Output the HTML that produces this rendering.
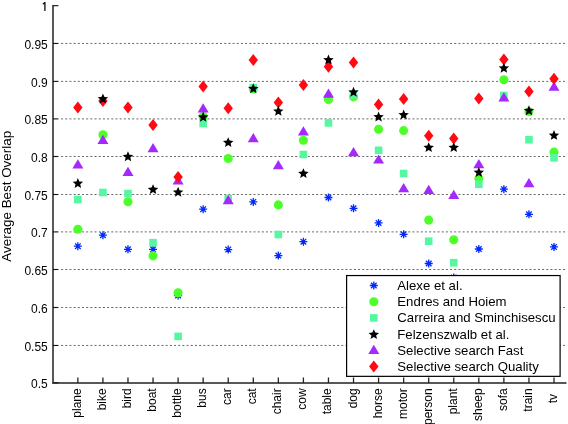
<!DOCTYPE html>
<html><head><meta charset="utf-8"><style>html,body{margin:0;padding:0;background:#fff;}svg{display:block;}</style></head>
<body>
<svg width="568" height="424" viewBox="0 0 568 424">
<rect width="568" height="424" fill="#fff"/>
<line x1="61.1" y1="345.45" x2="565.2" y2="345.45" stroke="#686868" stroke-width="1" stroke-dasharray="2 2.1825"/>
<line x1="61.1" y1="307.50" x2="565.2" y2="307.50" stroke="#686868" stroke-width="1" stroke-dasharray="2 2.1825"/>
<line x1="61.1" y1="269.50" x2="565.2" y2="269.50" stroke="#686868" stroke-width="1" stroke-dasharray="2 2.1825"/>
<line x1="61.1" y1="231.90" x2="565.2" y2="231.90" stroke="#686868" stroke-width="1" stroke-dasharray="2 2.1825"/>
<line x1="61.1" y1="194.50" x2="565.2" y2="194.50" stroke="#686868" stroke-width="1" stroke-dasharray="2 2.1825"/>
<line x1="61.1" y1="156.50" x2="565.2" y2="156.50" stroke="#686868" stroke-width="1" stroke-dasharray="2 2.1825"/>
<line x1="61.1" y1="118.90" x2="565.2" y2="118.90" stroke="#686868" stroke-width="1" stroke-dasharray="2 2.1825"/>
<line x1="61.1" y1="81.40" x2="565.2" y2="81.40" stroke="#686868" stroke-width="1" stroke-dasharray="2 2.1825"/>
<line x1="61.1" y1="43.45" x2="565.2" y2="43.45" stroke="#686868" stroke-width="1" stroke-dasharray="2 2.1825"/>
<path d="M73.86 246.20H81.86M77.86 242.20V250.20M75.06 243.40L80.66 249.00M75.06 249.00L80.66 243.40" stroke="#0028ff" stroke-width="1.3" fill="none"/>
<path d="M98.92 235.20H106.92M102.92 231.20V239.20M100.12 232.40L105.72 238.00M100.12 238.00L105.72 232.40" stroke="#0028ff" stroke-width="1.3" fill="none"/>
<path d="M123.98 249.30H131.98M127.98 245.30V253.30M125.18 246.50L130.78 252.10M125.18 252.10L130.78 246.50" stroke="#0028ff" stroke-width="1.3" fill="none"/>
<path d="M149.04 249.30H157.04M153.04 245.30V253.30M150.24 246.50L155.84 252.10M150.24 252.10L155.84 246.50" stroke="#0028ff" stroke-width="1.3" fill="none"/>
<path d="M174.10 295.50H182.10M178.10 291.50V299.50M175.30 292.70L180.90 298.30M175.30 298.30L180.90 292.70" stroke="#0028ff" stroke-width="1.3" fill="none"/>
<path d="M199.16 209.20H207.16M203.16 205.20V213.20M200.36 206.40L205.96 212.00M200.36 212.00L205.96 206.40" stroke="#0028ff" stroke-width="1.3" fill="none"/>
<path d="M224.22 249.60H232.22M228.22 245.60V253.60M225.42 246.80L231.02 252.40M225.42 252.40L231.02 246.80" stroke="#0028ff" stroke-width="1.3" fill="none"/>
<path d="M249.28 201.90H257.28M253.28 197.90V205.90M250.48 199.10L256.08 204.70M250.48 204.70L256.08 199.10" stroke="#0028ff" stroke-width="1.3" fill="none"/>
<path d="M274.34 255.60H282.34M278.34 251.60V259.60M275.54 252.80L281.14 258.40M275.54 258.40L281.14 252.80" stroke="#0028ff" stroke-width="1.3" fill="none"/>
<path d="M299.40 241.70H307.40M303.40 237.70V245.70M300.60 238.90L306.20 244.50M300.60 244.50L306.20 238.90" stroke="#0028ff" stroke-width="1.3" fill="none"/>
<path d="M324.46 197.50H332.46M328.46 193.50V201.50M325.66 194.70L331.26 200.30M325.66 200.30L331.26 194.70" stroke="#0028ff" stroke-width="1.3" fill="none"/>
<path d="M349.52 208.30H357.52M353.52 204.30V212.30M350.72 205.50L356.32 211.10M350.72 211.10L356.32 205.50" stroke="#0028ff" stroke-width="1.3" fill="none"/>
<path d="M374.58 222.90H382.58M378.58 218.90V226.90M375.78 220.10L381.38 225.70M375.78 225.70L381.38 220.10" stroke="#0028ff" stroke-width="1.3" fill="none"/>
<path d="M399.64 234.30H407.64M403.64 230.30V238.30M400.84 231.50L406.44 237.10M400.84 237.10L406.44 231.50" stroke="#0028ff" stroke-width="1.3" fill="none"/>
<path d="M424.70 263.50H432.70M428.70 259.50V267.50M425.90 260.70L431.50 266.30M425.90 266.30L431.50 260.70" stroke="#0028ff" stroke-width="1.3" fill="none"/>
<path d="M449.76 277.50H457.76M453.76 273.50V281.50M450.96 274.70L456.56 280.30M450.96 280.30L456.56 274.70" stroke="#0028ff" stroke-width="1.3" fill="none"/>
<path d="M474.82 249.00H482.82M478.82 245.00V253.00M476.02 246.20L481.62 251.80M476.02 251.80L481.62 246.20" stroke="#0028ff" stroke-width="1.3" fill="none"/>
<path d="M499.88 189.20H507.88M503.88 185.20V193.20M501.08 186.40L506.68 192.00M501.08 192.00L506.68 186.40" stroke="#0028ff" stroke-width="1.3" fill="none"/>
<path d="M524.94 214.30H532.94M528.94 210.30V218.30M526.14 211.50L531.74 217.10M526.14 217.10L531.74 211.50" stroke="#0028ff" stroke-width="1.3" fill="none"/>
<path d="M550.00 246.90H558.00M554.00 242.90V250.90M551.20 244.10L556.80 249.70M551.20 249.70L556.80 244.10" stroke="#0028ff" stroke-width="1.3" fill="none"/>
<circle cx="77.86" cy="229.20" r="4.55" fill="#4dff28"/>
<circle cx="102.92" cy="134.70" r="4.55" fill="#4dff28"/>
<circle cx="127.98" cy="201.70" r="4.55" fill="#4dff28"/>
<circle cx="153.04" cy="255.90" r="4.55" fill="#4dff28"/>
<circle cx="178.10" cy="292.70" r="4.55" fill="#4dff28"/>
<circle cx="203.16" cy="116.50" r="4.55" fill="#4dff28"/>
<circle cx="228.22" cy="158.50" r="4.55" fill="#4dff28"/>
<circle cx="253.28" cy="88.90" r="4.55" fill="#4dff28"/>
<circle cx="278.34" cy="204.90" r="4.55" fill="#4dff28"/>
<circle cx="303.40" cy="140.30" r="4.55" fill="#4dff28"/>
<circle cx="328.46" cy="99.60" r="4.55" fill="#4dff28"/>
<circle cx="353.52" cy="96.90" r="4.55" fill="#4dff28"/>
<circle cx="378.58" cy="129.20" r="4.55" fill="#4dff28"/>
<circle cx="403.64" cy="130.60" r="4.55" fill="#4dff28"/>
<circle cx="428.70" cy="220.10" r="4.55" fill="#4dff28"/>
<circle cx="453.76" cy="239.80" r="4.55" fill="#4dff28"/>
<circle cx="478.82" cy="178.60" r="4.55" fill="#4dff28"/>
<circle cx="503.88" cy="79.70" r="4.55" fill="#4dff28"/>
<circle cx="528.94" cy="111.80" r="4.55" fill="#4dff28"/>
<circle cx="554.00" cy="152.10" r="4.55" fill="#4dff28"/>
<rect x="74.06" y="195.70" width="7.6" height="7.6" fill="#55f8a0"/>
<rect x="99.12" y="188.70" width="7.6" height="7.6" fill="#55f8a0"/>
<rect x="124.18" y="189.80" width="7.6" height="7.6" fill="#55f8a0"/>
<rect x="149.24" y="238.90" width="7.6" height="7.6" fill="#55f8a0"/>
<rect x="174.30" y="332.60" width="7.6" height="7.6" fill="#55f8a0"/>
<rect x="199.36" y="119.70" width="7.6" height="7.6" fill="#55f8a0"/>
<rect x="224.42" y="194.80" width="7.6" height="7.6" fill="#55f8a0"/>
<rect x="249.48" y="83.80" width="7.6" height="7.6" fill="#55f8a0"/>
<rect x="274.54" y="230.70" width="7.6" height="7.6" fill="#55f8a0"/>
<rect x="299.60" y="150.70" width="7.6" height="7.6" fill="#55f8a0"/>
<rect x="324.66" y="119.10" width="7.6" height="7.6" fill="#55f8a0"/>
<rect x="349.72" y="90.90" width="7.6" height="7.6" fill="#55f8a0"/>
<rect x="374.78" y="146.50" width="7.6" height="7.6" fill="#55f8a0"/>
<rect x="399.84" y="169.70" width="7.6" height="7.6" fill="#55f8a0"/>
<rect x="424.90" y="237.40" width="7.6" height="7.6" fill="#55f8a0"/>
<rect x="449.96" y="258.90" width="7.6" height="7.6" fill="#55f8a0"/>
<rect x="475.02" y="180.50" width="7.6" height="7.6" fill="#55f8a0"/>
<rect x="500.08" y="91.70" width="7.6" height="7.6" fill="#55f8a0"/>
<rect x="525.14" y="135.90" width="7.6" height="7.6" fill="#55f8a0"/>
<rect x="550.20" y="154.00" width="7.6" height="7.6" fill="#55f8a0"/>
<path d="M77.86 159.30L83.36 168.50L72.36 168.50Z" fill="#a528ff"/>
<path d="M102.92 134.80L108.42 144.00L97.42 144.00Z" fill="#a528ff"/>
<path d="M127.98 166.80L133.48 176.00L122.48 176.00Z" fill="#a528ff"/>
<path d="M153.04 143.10L158.54 152.30L147.54 152.30Z" fill="#a528ff"/>
<path d="M178.10 175.40L183.60 184.60L172.60 184.60Z" fill="#a528ff"/>
<path d="M203.16 103.30L208.66 112.50L197.66 112.50Z" fill="#a528ff"/>
<path d="M228.22 195.00L233.72 204.20L222.72 204.20Z" fill="#a528ff"/>
<path d="M253.28 133.00L258.78 142.20L247.78 142.20Z" fill="#a528ff"/>
<path d="M278.34 160.00L283.84 169.20L272.84 169.20Z" fill="#a528ff"/>
<path d="M303.40 126.20L308.90 135.40L297.90 135.40Z" fill="#a528ff"/>
<path d="M328.46 88.60L333.96 97.80L322.96 97.80Z" fill="#a528ff"/>
<path d="M353.52 147.00L359.02 156.20L348.02 156.20Z" fill="#a528ff"/>
<path d="M378.58 154.40L384.08 163.60L373.08 163.60Z" fill="#a528ff"/>
<path d="M403.64 183.00L409.14 192.20L398.14 192.20Z" fill="#a528ff"/>
<path d="M428.70 184.80L434.20 194.00L423.20 194.00Z" fill="#a528ff"/>
<path d="M453.76 189.70L459.26 198.90L448.26 198.90Z" fill="#a528ff"/>
<path d="M478.82 159.00L484.32 168.20L473.32 168.20Z" fill="#a528ff"/>
<path d="M503.88 92.30L509.38 101.50L498.38 101.50Z" fill="#a528ff"/>
<path d="M528.94 178.10L534.44 187.30L523.44 187.30Z" fill="#a528ff"/>
<path d="M554.00 81.60L559.50 90.80L548.50 90.80Z" fill="#a528ff"/>
<path d="M77.86 101.50L82.56 107.50L77.86 113.50L73.16 107.50Z" fill="#ff0a12"/>
<path d="M102.92 94.90L107.62 100.90L102.92 106.90L98.22 100.90Z" fill="#ff0a12"/>
<path d="M127.98 101.40L132.68 107.40L127.98 113.40L123.28 107.40Z" fill="#ff0a12"/>
<path d="M153.04 119.10L157.74 125.10L153.04 131.10L148.34 125.10Z" fill="#ff0a12"/>
<path d="M178.10 171.00L182.80 177.00L178.10 183.00L173.40 177.00Z" fill="#ff0a12"/>
<path d="M203.16 80.60L207.86 86.60L203.16 92.60L198.46 86.60Z" fill="#ff0a12"/>
<path d="M228.22 102.30L232.92 108.30L228.22 114.30L223.52 108.30Z" fill="#ff0a12"/>
<path d="M253.28 54.10L257.98 60.10L253.28 66.10L248.58 60.10Z" fill="#ff0a12"/>
<path d="M278.34 96.60L283.04 102.60L278.34 108.60L273.64 102.60Z" fill="#ff0a12"/>
<path d="M303.40 79.10L308.10 85.10L303.40 91.10L298.70 85.10Z" fill="#ff0a12"/>
<path d="M328.46 60.70L333.16 66.70L328.46 72.70L323.76 66.70Z" fill="#ff0a12"/>
<path d="M353.52 56.50L358.22 62.50L353.52 68.50L348.82 62.50Z" fill="#ff0a12"/>
<path d="M378.58 98.50L383.28 104.50L378.58 110.50L373.88 104.50Z" fill="#ff0a12"/>
<path d="M403.64 93.10L408.34 99.10L403.64 105.10L398.94 99.10Z" fill="#ff0a12"/>
<path d="M428.70 129.70L433.40 135.70L428.70 141.70L424.00 135.70Z" fill="#ff0a12"/>
<path d="M453.76 132.50L458.46 138.50L453.76 144.50L449.06 138.50Z" fill="#ff0a12"/>
<path d="M478.82 92.60L483.52 98.60L478.82 104.60L474.12 98.60Z" fill="#ff0a12"/>
<path d="M503.88 53.50L508.58 59.50L503.88 65.50L499.18 59.50Z" fill="#ff0a12"/>
<path d="M528.94 85.50L533.64 91.50L528.94 97.50L524.24 91.50Z" fill="#ff0a12"/>
<path d="M554.00 72.70L558.70 78.70L554.00 84.70L549.30 78.70Z" fill="#ff0a12"/>
<polygon points="77.86,178.03 79.31,181.52 83.09,181.83 80.21,184.29 81.09,187.97 77.86,186.00 74.63,187.97 75.51,184.29 72.63,181.83 76.41,181.52" fill="#000"/>
<polygon points="102.92,93.53 104.37,97.02 108.15,97.33 105.27,99.79 106.15,103.47 102.92,101.50 99.69,103.47 100.57,99.79 97.69,97.33 101.47,97.02" fill="#000"/>
<polygon points="127.98,151.23 129.43,154.72 133.21,155.03 130.33,157.49 131.21,161.17 127.98,159.20 124.75,161.17 125.63,157.49 122.75,155.03 126.53,154.72" fill="#000"/>
<polygon points="153.04,184.13 154.49,187.62 158.27,187.93 155.39,190.39 156.27,194.07 153.04,192.10 149.81,194.07 150.69,190.39 147.81,187.93 151.59,187.62" fill="#000"/>
<polygon points="178.10,186.83 179.55,190.32 183.33,190.63 180.45,193.09 181.33,196.77 178.10,194.80 174.87,196.77 175.75,193.09 172.87,190.63 176.65,190.32" fill="#000"/>
<polygon points="203.16,111.73 204.61,115.22 208.39,115.53 205.51,117.99 206.39,121.67 203.16,119.70 199.93,121.67 200.81,117.99 197.93,115.53 201.71,115.22" fill="#000"/>
<polygon points="228.22,137.13 229.67,140.62 233.45,140.93 230.57,143.39 231.45,147.07 228.22,145.10 224.99,147.07 225.87,143.39 222.99,140.93 226.77,140.62" fill="#000"/>
<polygon points="253.28,83.23 254.73,86.72 258.51,87.03 255.63,89.49 256.51,93.17 253.28,91.20 250.05,93.17 250.93,89.49 248.05,87.03 251.83,86.72" fill="#000"/>
<polygon points="278.34,105.83 279.79,109.32 283.57,109.63 280.69,112.09 281.57,115.77 278.34,113.80 275.11,115.77 275.99,112.09 273.11,109.63 276.89,109.32" fill="#000"/>
<polygon points="303.40,168.13 304.85,171.62 308.63,171.93 305.75,174.39 306.63,178.07 303.40,176.10 300.17,178.07 301.05,174.39 298.17,171.93 301.95,171.62" fill="#000"/>
<polygon points="328.46,54.53 329.91,58.02 333.69,58.33 330.81,60.79 331.69,64.47 328.46,62.50 325.23,64.47 326.11,60.79 323.23,58.33 327.01,58.02" fill="#000"/>
<polygon points="353.52,86.73 354.97,90.22 358.75,90.53 355.87,92.99 356.75,96.67 353.52,94.70 350.29,96.67 351.17,92.99 348.29,90.53 352.07,90.22" fill="#000"/>
<polygon points="378.58,111.53 380.03,115.02 383.81,115.33 380.93,117.79 381.81,121.47 378.58,119.50 375.35,121.47 376.23,117.79 373.35,115.33 377.13,115.02" fill="#000"/>
<polygon points="403.64,109.53 405.09,113.02 408.87,113.33 405.99,115.79 406.87,119.47 403.64,117.50 400.41,119.47 401.29,115.79 398.41,113.33 402.19,113.02" fill="#000"/>
<polygon points="428.70,142.13 430.15,145.62 433.93,145.93 431.05,148.39 431.93,152.07 428.70,150.10 425.47,152.07 426.35,148.39 423.47,145.93 427.25,145.62" fill="#000"/>
<polygon points="453.76,142.13 455.21,145.62 458.99,145.93 456.11,148.39 456.99,152.07 453.76,150.10 450.53,152.07 451.41,148.39 448.53,145.93 452.31,145.62" fill="#000"/>
<polygon points="478.82,167.03 480.27,170.52 484.05,170.83 481.17,173.29 482.05,176.97 478.82,175.00 475.59,176.97 476.47,173.29 473.59,170.83 477.37,170.52" fill="#000"/>
<polygon points="503.88,62.73 505.33,66.22 509.11,66.53 506.23,68.99 507.11,72.67 503.88,70.70 500.65,72.67 501.53,68.99 498.65,66.53 502.43,66.22" fill="#000"/>
<polygon points="528.94,105.23 530.39,108.72 534.17,109.03 531.29,111.49 532.17,115.17 528.94,113.20 525.71,115.17 526.59,111.49 523.71,109.03 527.49,108.72" fill="#000"/>
<polygon points="554.00,129.93 555.45,133.42 559.23,133.73 556.35,136.19 557.23,139.87 554.00,137.90 550.77,139.87 551.65,136.19 548.77,133.73 552.55,133.42" fill="#000"/>
<line x1="53" y1="4.88" x2="53" y2="384" stroke="#585858" stroke-width="2"/>
<line x1="52" y1="383" x2="566.5" y2="383" stroke="#585858" stroke-width="2"/>
<line x1="53" y1="382.86" x2="58.4" y2="382.86" stroke="#111" stroke-width="1.1"/>
<line x1="53" y1="345.45" x2="58.4" y2="345.45" stroke="#111" stroke-width="1.1"/>
<line x1="53" y1="307.50" x2="58.4" y2="307.50" stroke="#111" stroke-width="1.1"/>
<line x1="53" y1="269.50" x2="58.4" y2="269.50" stroke="#111" stroke-width="1.1"/>
<line x1="53" y1="231.90" x2="58.4" y2="231.90" stroke="#111" stroke-width="1.1"/>
<line x1="53" y1="194.50" x2="58.4" y2="194.50" stroke="#111" stroke-width="1.1"/>
<line x1="53" y1="156.50" x2="58.4" y2="156.50" stroke="#111" stroke-width="1.1"/>
<line x1="53" y1="118.90" x2="58.4" y2="118.90" stroke="#111" stroke-width="1.1"/>
<line x1="53" y1="81.40" x2="58.4" y2="81.40" stroke="#111" stroke-width="1.1"/>
<line x1="53" y1="43.45" x2="58.4" y2="43.45" stroke="#111" stroke-width="1.1"/>
<line x1="53" y1="5.68" x2="58.4" y2="5.68" stroke="#111" stroke-width="1.1"/>
<line x1="77.86" y1="383" x2="77.86" y2="377.5" stroke="#222" stroke-width="1.3"/>
<line x1="102.92" y1="383" x2="102.92" y2="377.5" stroke="#222" stroke-width="1.3"/>
<line x1="127.98" y1="383" x2="127.98" y2="377.5" stroke="#222" stroke-width="1.3"/>
<line x1="153.04" y1="383" x2="153.04" y2="377.5" stroke="#222" stroke-width="1.3"/>
<line x1="178.10" y1="383" x2="178.10" y2="377.5" stroke="#222" stroke-width="1.3"/>
<line x1="203.16" y1="383" x2="203.16" y2="377.5" stroke="#222" stroke-width="1.3"/>
<line x1="228.22" y1="383" x2="228.22" y2="377.5" stroke="#222" stroke-width="1.3"/>
<line x1="253.28" y1="383" x2="253.28" y2="377.5" stroke="#222" stroke-width="1.3"/>
<line x1="278.34" y1="383" x2="278.34" y2="377.5" stroke="#222" stroke-width="1.3"/>
<line x1="303.40" y1="383" x2="303.40" y2="377.5" stroke="#222" stroke-width="1.3"/>
<line x1="328.46" y1="383" x2="328.46" y2="377.5" stroke="#222" stroke-width="1.3"/>
<line x1="353.52" y1="383" x2="353.52" y2="377.5" stroke="#222" stroke-width="1.3"/>
<line x1="378.58" y1="383" x2="378.58" y2="377.5" stroke="#222" stroke-width="1.3"/>
<line x1="403.64" y1="383" x2="403.64" y2="377.5" stroke="#222" stroke-width="1.3"/>
<line x1="428.70" y1="383" x2="428.70" y2="377.5" stroke="#222" stroke-width="1.3"/>
<line x1="453.76" y1="383" x2="453.76" y2="377.5" stroke="#222" stroke-width="1.3"/>
<line x1="478.82" y1="383" x2="478.82" y2="377.5" stroke="#222" stroke-width="1.3"/>
<line x1="503.88" y1="383" x2="503.88" y2="377.5" stroke="#222" stroke-width="1.3"/>
<line x1="528.94" y1="383" x2="528.94" y2="377.5" stroke="#222" stroke-width="1.3"/>
<line x1="554.00" y1="383" x2="554.00" y2="377.5" stroke="#222" stroke-width="1.3"/>
<text x="47.8" y="388.16" font-family="'Liberation Sans', Arial, Helvetica, sans-serif" font-size="12" text-anchor="end" fill="#000">0.5</text>
<text x="47.8" y="350.75" font-family="'Liberation Sans', Arial, Helvetica, sans-serif" font-size="12" text-anchor="end" fill="#000">0.55</text>
<text x="47.8" y="312.80" font-family="'Liberation Sans', Arial, Helvetica, sans-serif" font-size="12" text-anchor="end" fill="#000">0.6</text>
<text x="47.8" y="274.80" font-family="'Liberation Sans', Arial, Helvetica, sans-serif" font-size="12" text-anchor="end" fill="#000">0.65</text>
<text x="47.8" y="237.20" font-family="'Liberation Sans', Arial, Helvetica, sans-serif" font-size="12" text-anchor="end" fill="#000">0.7</text>
<text x="47.8" y="199.80" font-family="'Liberation Sans', Arial, Helvetica, sans-serif" font-size="12" text-anchor="end" fill="#000">0.75</text>
<text x="47.8" y="161.80" font-family="'Liberation Sans', Arial, Helvetica, sans-serif" font-size="12" text-anchor="end" fill="#000">0.8</text>
<text x="47.8" y="124.20" font-family="'Liberation Sans', Arial, Helvetica, sans-serif" font-size="12" text-anchor="end" fill="#000">0.85</text>
<text x="47.8" y="86.70" font-family="'Liberation Sans', Arial, Helvetica, sans-serif" font-size="12" text-anchor="end" fill="#000">0.9</text>
<text x="47.8" y="48.75" font-family="'Liberation Sans', Arial, Helvetica, sans-serif" font-size="12" text-anchor="end" fill="#000">0.95</text>
<text x="41" y="11" font-family="NanumGothic, 'Liberation Sans', sans-serif" font-weight="bold" font-size="12" fill="#000">1</text>
<text transform="translate(80.86,388.3) rotate(-90)" font-family="'Liberation Sans', Arial, Helvetica, sans-serif" font-size="12" text-anchor="end" fill="#000">plane</text>
<text transform="translate(105.92,388.3) rotate(-90)" font-family="'Liberation Sans', Arial, Helvetica, sans-serif" font-size="12" text-anchor="end" fill="#000">bike</text>
<text transform="translate(130.98,388.3) rotate(-90)" font-family="'Liberation Sans', Arial, Helvetica, sans-serif" font-size="12" text-anchor="end" fill="#000">bird</text>
<text transform="translate(156.04,388.3) rotate(-90)" font-family="'Liberation Sans', Arial, Helvetica, sans-serif" font-size="12" text-anchor="end" fill="#000">boat</text>
<text transform="translate(181.10,388.3) rotate(-90)" font-family="'Liberation Sans', Arial, Helvetica, sans-serif" font-size="12" text-anchor="end" fill="#000">bottle</text>
<text transform="translate(206.16,388.3) rotate(-90)" font-family="'Liberation Sans', Arial, Helvetica, sans-serif" font-size="12" text-anchor="end" fill="#000">bus</text>
<text transform="translate(231.22,388.3) rotate(-90)" font-family="'Liberation Sans', Arial, Helvetica, sans-serif" font-size="12" text-anchor="end" fill="#000">car</text>
<text transform="translate(256.28,388.3) rotate(-90)" font-family="'Liberation Sans', Arial, Helvetica, sans-serif" font-size="12" text-anchor="end" fill="#000">cat</text>
<text transform="translate(281.34,388.3) rotate(-90)" font-family="'Liberation Sans', Arial, Helvetica, sans-serif" font-size="12" text-anchor="end" fill="#000">chair</text>
<text transform="translate(306.40,388.3) rotate(-90)" font-family="'Liberation Sans', Arial, Helvetica, sans-serif" font-size="12" text-anchor="end" fill="#000">cow</text>
<text transform="translate(331.46,388.3) rotate(-90)" font-family="'Liberation Sans', Arial, Helvetica, sans-serif" font-size="12" text-anchor="end" fill="#000">table</text>
<text transform="translate(356.52,388.3) rotate(-90)" font-family="'Liberation Sans', Arial, Helvetica, sans-serif" font-size="12" text-anchor="end" fill="#000">dog</text>
<text transform="translate(381.58,388.3) rotate(-90)" font-family="'Liberation Sans', Arial, Helvetica, sans-serif" font-size="12" text-anchor="end" fill="#000">horse</text>
<text transform="translate(406.64,388.3) rotate(-90)" font-family="'Liberation Sans', Arial, Helvetica, sans-serif" font-size="12" text-anchor="end" fill="#000">motor</text>
<text transform="translate(431.70,388.3) rotate(-90)" font-family="'Liberation Sans', Arial, Helvetica, sans-serif" font-size="12" text-anchor="end" fill="#000">person</text>
<text transform="translate(456.76,388.3) rotate(-90)" font-family="'Liberation Sans', Arial, Helvetica, sans-serif" font-size="12" text-anchor="end" fill="#000">plant</text>
<text transform="translate(481.82,388.3) rotate(-90)" font-family="'Liberation Sans', Arial, Helvetica, sans-serif" font-size="12" text-anchor="end" fill="#000">sheep</text>
<text transform="translate(506.88,388.3) rotate(-90)" font-family="'Liberation Sans', Arial, Helvetica, sans-serif" font-size="12" text-anchor="end" fill="#000">sofa</text>
<text transform="translate(531.94,388.3) rotate(-90)" font-family="'Liberation Sans', Arial, Helvetica, sans-serif" font-size="12" text-anchor="end" fill="#000">train</text>
<text transform="translate(557.00,393.9) rotate(-90)" font-family="'Liberation Sans', Arial, Helvetica, sans-serif" font-size="12" text-anchor="end" fill="#000">tv</text>
<text transform="translate(11.1,196.3) rotate(-90)" font-family="'Liberation Sans', Arial, Helvetica, sans-serif" font-size="13.4" text-anchor="middle" fill="#000">Average Best Overlap</text>
<rect x="346.6" y="275.55" width="213.50" height="100.80" fill="#fff" stroke="#000" stroke-width="1.2"/>
<path d="M369.80 285.50H377.80M373.80 281.50V289.50M371.00 282.70L376.60 288.30M371.00 288.30L376.60 282.70" stroke="#0028ff" stroke-width="1.3" fill="none"/>
<text x="397.3" y="290.00" font-family="'Liberation Sans', Arial, Helvetica, sans-serif" font-size="13.2" fill="#000">Alexe et al.</text>
<circle cx="373.80" cy="301.70" r="4.55" fill="#4dff28"/>
<text x="397.3" y="306.20" font-family="'Liberation Sans', Arial, Helvetica, sans-serif" font-size="13.2" fill="#000">Endres and Hoiem</text>
<rect x="370.00" y="314.10" width="7.6" height="7.6" fill="#55f8a0"/>
<text x="397.3" y="322.40" font-family="'Liberation Sans', Arial, Helvetica, sans-serif" font-size="13.2" fill="#000">Carreira and Sminchisescu</text>
<polygon points="373.80,329.13 375.25,332.62 379.03,332.93 376.15,335.39 377.03,339.07 373.80,337.10 370.57,339.07 371.45,335.39 368.57,332.93 372.35,332.62" fill="#000"/>
<text x="397.3" y="338.60" font-family="'Liberation Sans', Arial, Helvetica, sans-serif" font-size="13.2" fill="#000">Felzenszwalb et al.</text>
<path d="M373.80 344.70L379.30 353.90L368.30 353.90Z" fill="#a528ff"/>
<text x="397.3" y="354.80" font-family="'Liberation Sans', Arial, Helvetica, sans-serif" font-size="13.2" fill="#000">Selective search Fast</text>
<path d="M373.80 360.50L378.50 366.50L373.80 372.50L369.10 366.50Z" fill="#ff0a12"/>
<text x="397.3" y="371.00" font-family="'Liberation Sans', Arial, Helvetica, sans-serif" font-size="13.2" fill="#000">Selective search Quality</text>
</svg>
</body></html>
